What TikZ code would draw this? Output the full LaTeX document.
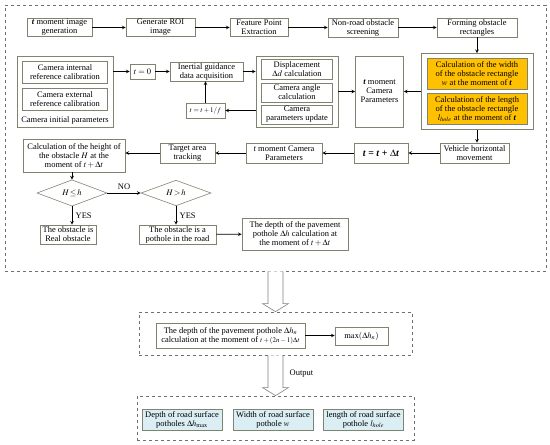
\documentclass[tikz,border=0pt]{standalone}
\usepackage{amsmath}
\usepackage{mathptmx}
\usepackage[no-math]{fontspec}
\setmainfont{Liberation Serif}
\usetikzlibrary{shapes.geometric,calc}

\definecolor{boxline}{RGB}{125,132,112}
\definecolor{dashgray}{RGB}{112,112,112}
\definecolor{warnorange}{RGB}{255,192,0}
\definecolor{outblue}{RGB}{218,238,243}

\newcommand{\boldt}{\textbf{\textit{t}}}

\tikzset{
    box/.style={draw=boxline, line width=0.6pt, fill=white, align=center, inner sep=1pt,
        font=\fontsize{8.5}{9}\selectfont},
    sz/.style 2 args={minimum width=#1bp, minimum height=#2bp},
    grp/.style={draw=boxline, line width=0.6pt},
    orangebox/.style={box, fill=warnorange},
    outbox/.style={box, fill=outblue},
    dashbox/.style={draw=dashgray, dashed, line width=0.8pt},
    decision/.style={diamond, draw=boxline, line width=0.6pt, inner sep=0pt, sz={70}{22},
        font=\fontsize{8.5}{9}\selectfont},
    hollow/.style={draw=gray, fill=white, line width=0.6pt},
    lbl/.style={font=\fontsize{8.5}{9}\selectfont}
}

\begin{document}
\begin{tikzpicture}[x=1bp, y=-1bp, >=stealth, line width=0.7pt]
        \useasboundingbox (0,0) rectangle (550,445);
        % 外框
        \node[dashbox, sz={541}{266}] (main) at (275.5,138) {};

        % 第一行
        \node[box, sz={65}{18}] (gen) at (59.5,27.5) {\boldt\ moment image\\generation};
        \node[box, sz={69}{18}] (roi) at (160.5,27.5) {Generate ROI\\image};
        \node[box, sz={58}{18}] (feat) at (259,27.5) {Feature Point\\Extraction};
        \node[box, sz={70}{19}] (nonroad) at (363,27.5) {Non-road obstacle\\screening};
        \node[box, sz={80}{19}] (forming) at (477,27.5) {Forming obstacle\\rectangles};
        \draw[->] (gen) -- (roi);
        \draw[->] (roi) -- (feat);
        \draw[->] (feat) -- (nonroad);
        \draw[->] (nonroad) -- (forming);

        % 第二行
        \node[grp, sz={96}{71}] (caminit) at (65,91.5) {};
        \node[box, sz={85}{22}] (intern) at (65,72.5) {Camera internal\\reference calibration};
        \node[box, sz={85}{22}] (extern) at (65,99) {Camera external\\reference calibration};
        \node[lbl] (camlbl) at (65,120) {Camera initial parameters};
        \node[box, sz={25}{15}] (tzero) at (142.5,71.5) {$t=0$};
        \node[box, sz={39}{15}, font=\fontsize{7}{8}\selectfont] (tf) at (205.5,110.5) {$t=t+1/f$};
        \node[box, sz={73}{19}] (inertial) at (206.5,71.5) {Inertial guidance\\data acquisition};
        \node[grp, sz={82}{71}] (dispgrp) at (297,91.5) {};
        \node[box, sz={71}{20}] (disp) at (297,69.5) {Displacement\\$\Delta d$ calculation};
        \node[box, sz={71}{19}] (angle) at (297,92.5) {Camera angle\\calculation};
        \node[box, sz={71}{19}] (update) at (297,114.5) {Camera\\parameters update};
        \node[box, sz={48}{71}] (tmom) at (379.5,91.5) {\boldt\ moment\\Camera\\Parameters};
        \node[grp, sz={112}{76}] (rectgrp) at (477,91.5) {};
        \node[orangebox, sz={100}{31}] (width) at (477,73.5)
            {Calculation of the width\\of the obstacle rectangle\\$w$ at the moment of \boldt};
        \node[orangebox, sz={100}{31}] (length) at (477,109)
            {Calculation of the length\\of the obstacle rectangle\\$l_{hole}$ at the moment of \boldt};
        \draw[->] (caminit.east |- tzero.west) -- (tzero.west);
        \draw[->] (tzero) -- (inertial);
        \draw[->] (inertial.east) -- (inertial.east -| dispgrp.west);
        \draw[->] (dispgrp.west |- tf.east) -- (tf.east);
        \draw[->] (tf.north) -- (tf.north |- inertial.south);
        \draw[->] (dispgrp.east) -- (tmom.west);
        \draw[->] (rectgrp.west) -- (tmom.east);
        \draw[->] (forming.south) -- (rectgrp.north);

        % 第三行
        \node[box, sz={69}{20}] (vehicle) at (474.5,153) {Vehicle horizontal\\movement};
        \node[box, sz={54}{20}, font=\fontsize{10}{11}\selectfont] (tdt) at (381,153)
            {\boldt\ \textbf{=} \boldt\ \textbf{+} $\Delta$\boldt};
        \node[box, sz={76}{20}] (tmom2) at (284,153) {\textit{t} moment Camera\\Parameters};
        \node[box, sz={55}{20}] (target) at (187.5,153) {Target area\\tracking};
        \node[box, sz={102}{33}] (calch) at (74,155.5)
            {Calculation of the height of\\the obstacle $H$ at the\\moment of $t+\Delta t$};
        \draw[->] (rectgrp.south) -- (rectgrp.south |- vehicle.north);
        \draw[->] (vehicle) -- (tdt);
        \draw[->] (tdt) -- (tmom2);
        \draw[->] (tmom2) -- (target);
        \draw[->] (target.west) -- (target.west -| calch.east);

        % 判断
        \node[decision] (dle) at (72,193) {$H\!\le\! h$};
        \node[decision] (dgt) at (176,193) {$H\!>\!h$};
        \draw[->] (calch.south -| dle.north) -- (dle.north);
        \draw[->] (dle.east) -- node[lbl, above] {NO} (dgt.west);

        % 结果
        \node[box, sz={56}{19}] (real) at (68,234.5) {The obstacle is\\Real obstacle};
        \node[box, sz={77}{19}] (pothole) at (177.5,234.5) {The obstacle is a\\pothole in the road};
        \node[box, sz={106}{32}] (depth) at (295,234)
            {The depth of the pavement\\pothole $\Delta h$ calculation at\\the moment of $t+\Delta t$};
        \draw[->] (dle.south) -- node[lbl, right] {YES} (dle.south |- real.north);
        \draw[->] (dgt.south) -- node[lbl, right] {YES} (dgt.south |- pothole.north);
        \draw[->] (pothole) -- (depth);

        % 第二个框
        \node[dashbox, sz={273}{43}] (sec) at (275.5,333.5) {};
        \node[box, sz={149}{25}] (depthn) at (230.5,335.5)
            {The depth of the pavement pothole $\Delta h_n$\\calculation at the moment of {\scriptsize$t+(2n-1)\Delta t$}};
        \node[box, sz={53}{18}] (maxh) at (361.5,336) {$\max(\Delta h_n)$};
        \draw[->] (depthn.east) -- (depthn.east -| maxh.west);

        % 输出框
        \node[dashbox, sz={277}{44}] (outgrp) at (275.5,418) {};
        \node[outbox, sz={80}{21}] (outdepth) at (182,419.5) {Depth of road surface\\potholes $\Delta h_{\max}$};
        \node[outbox, sz={80}{21}] (outwidth) at (273,419.5) {Width of road surface\\pothole $w$};
        \node[outbox, sz={80}{21}] (outlength) at (363.5,419.5) {length of road surface\\pothole $l_{hole}$};
        \node[lbl, anchor=west] (outlbl) at (286,374) {Output};

        % 空心箭头
        \draw[hollow] ($(main.south)+(-7.5,0)$) -- ($(sec.north)+(-7.5,-8)$) -- ($(sec.north)+(-13,-8)$)
            -- (sec.north) -- ($(sec.north)+(13,-8)$) -- ($(sec.north)+(7.5,-8)$) -- ($(main.south)+(7.5,0)$);
        \draw[hollow] ($(sec.south)+(-7.5,0)$) -- ($(outgrp.north)+(-7.5,-8)$) -- ($(outgrp.north)+(-13,-8)$)
            -- (outgrp.north) -- ($(outgrp.north)+(13,-8)$) -- ($(outgrp.north)+(7.5,-8)$) -- ($(sec.south)+(7.5,0)$);
    \end{tikzpicture}
\end{document}
